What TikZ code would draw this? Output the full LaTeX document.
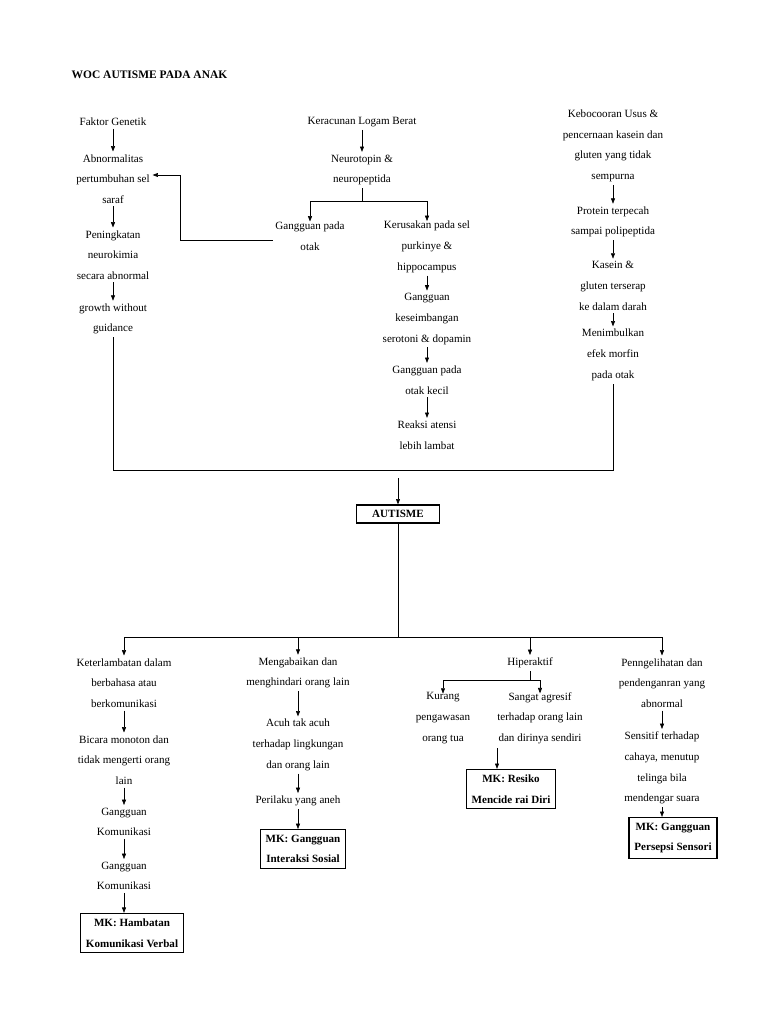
\documentclass[tikz,border=0pt]{standalone}
\usepackage{fontspec}
\setmainfont{Liberation Serif}
\usetikzlibrary{arrows.meta}
\begin{document}
\begin{tikzpicture}[x=0.75pt,y=-0.75pt,
  t/.style={align=center,inner sep=2pt,font=\fontsize{8.3}{15.5}\selectfont},
  bx/.style={t,draw,line width=0.9pt,font=\fontsize{8.3}{15.5}\selectfont\bfseries,inner sep=4pt},
  arr/.style={-{Triangle[length=4pt,width=3pt]},line width=0.4pt},
  ln/.style={line width=0.5pt}]
\useasboundingbox (0,0) rectangle (768,1024);
\node[anchor=west,font=\fontsize{8.6}{10}\selectfont\bfseries] (title) at (67,75) {WOC AUTISME PADA ANAK};
% left column
\node[t] (fg) at (113,122) {Faktor Genetik};
\node[t] (ab) at (113,179) {Abnormalitas\\pertumbuhan sel\\saraf};
\node[t] (pn) at (113,255) {Peningkatan\\neurokimia\\secara abnormal};
\node[t] (gw) at (113,319) {growth without\\guidance};
\draw[arr] (fg) -- (ab); \draw[arr] (ab) -- (pn); \draw[arr] (pn) -- (gw);
% middle
\node[t] (kl) at (362,122) {Keracunan Logam Berat};
\node[t] (nn) at (362,170) {Neurotopin \&\\neuropeptida};
\draw[arr] (kl) -- (nn);
\node[t] (gpo) at (310,236) {Gangguan pada\\otak};
\node[t] (kps) at (427,247) {Kerusakan pada sel\\purkinye \&\\hippocampus};
\coordinate (sp) at (362,201);
\draw[ln] (nn) -- (sp);
\draw[arr] (sp) -| ([yshift=-2pt]gpo.north);
\draw[arr] (sp) -| ([yshift=-2pt]kps.north);
\coordinate (g1) at (180,240);
\coordinate (g2) at (180,175);
\draw[ln] (gpo.west |- g1) -- (g1) -- (g2);
\draw[arr] (g2) -- (ab.east |- g2);
\node[t] (gks) at (427,319) {Gangguan\\keseimbangan\\serotoni \& dopamin};
\node[t] (gok) at (427,380) {Gangguan pada\\otak kecil};
\node[t] (ra) at (427,435) {Reaksi atensi\\lebih lambat};
\draw[arr] (kps) -- (gks); \draw[arr] (gks) -- (gok); \draw[arr] (gok) -- (ra);
% right
\node[t] (ku) at (613,146) {Kebocooran Usus \&\\pencernaan kasein dan\\gluten yang tidak\\sempurna};
\node[t] (pt) at (613,222) {Protein terpecah\\sampai polipeptida};
\node[t] (kg) at (613,286) {Kasein \&\\gluten terserap\\ke dalam darah};
\node[t] (me) at (613,355) {Menimbulkan\\efek morfin\\pada otak};
\draw[arr] (ku) -- (pt); \draw[arr] (pt) -- (kg); \draw[arr] (kg) -- (me);
% join
\node[bx,inner xsep=12pt] (au) at (398,514) {AUTISME};
\coordinate (jl) at (113,470); \coordinate (jr) at (613,470); \coordinate (jm) at (398,478);
\draw[ln] (gw) -- (jl) -- (jr) -- (me);
\draw[arr] (jm) -- (au);
\coordinate (bm) at (398,637);
\draw[ln] (au) -- (bm);
\coordinate (b1) at (124,637); \coordinate (b4) at (662,637);
\draw[ln] (b1) -- (b4);
% col1
\node[t] (k1) at (124,683) {Keterlambatan dalam\\berbahasa atau\\berkomunikasi};
\node[t] (k2) at (124,760) {Bicara monoton dan\\tidak mengerti orang\\lain};
\node[t] (k3) at (124,822) {Gangguan\\Komunikasi};
\node[t] (k4) at (124,876) {Gangguan\\Komunikasi};
\node[bx] (k5) at (132,933) {MK: Hambatan\\Komunikasi Verbal};
\draw[arr] (b1) -- (k1); \draw[arr] (k1) -- (k2); \draw[arr] (k2) -- (k3); \draw[arr] (k3) -- (k4); \draw[arr] (k4) -- (k4 |- k5.north);
% col2
\node[t] (m1) at (298,673) {Mengabaikan dan\\menghindari orang lain};
\node[t] (m2) at (298,745) {Acuh tak acuh\\terhadap lingkungan\\dan orang lain};
\node[t] (m3) at (298,801) {Perilaku yang aneh};
\node[bx] (m4) at (303,849) {MK: Gangguan\\Interaksi Sosial};
\draw[arr] (b1 -| m1) -- (m1); \draw[arr] (m1) -- (m2); \draw[arr] (m2) -- (m3); \draw[arr] (m3) -- (m3 |- m4.north);
% col3
\node[t] (h1) at (530,663) {Hiperaktif};
\node[t] (h2) at (443,718) {Kurang\\pengawasan\\orang tua};
\node[t] (h3) at (540,718) {Sangat agresif\\terhadap orang lain\\dan dirinya sendiri};
\node[bx] (h4) at (511,789) {MK: Resiko\\Mencide rai Diri};
\draw[arr] (b1 -| h1) -- (h1);
\coordinate (hs) at (530,680);
\draw[ln] (h1) -- (hs);
\draw[arr] (hs) -| ([yshift=-3pt]h2.north);
\draw[arr] (hs) -| ([yshift=-3pt]h3.north);
\coordinate (ha) at (497,748);
\draw[arr] (ha) -- (ha |- h4.north);
% col4
\node[t] (p1) at (662,683) {Penngelihatan dan\\pendenganran yang\\abnormal};
\node[t] (p2) at (662,768) {Sensitif terhadap\\cahaya, menutup\\telinga bila\\mendengar suara};
\node[bx] (p3) at (673,838) {MK: Gangguan\\Persepsi Sensori};
\draw[arr] (b4) -- (p1); \draw[arr] (p1) -- (p2); \draw[arr] (p2) -- (p2 |- p3.north);
\end{tikzpicture}
\end{document}
